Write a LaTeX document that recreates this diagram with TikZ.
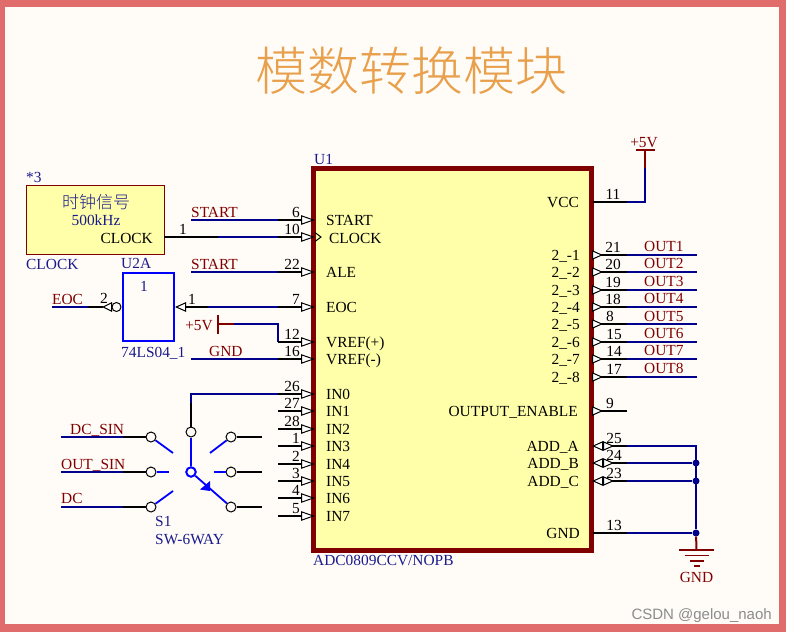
\documentclass[tikz,border=0pt]{standalone}
\usepackage{fontspec}
\setmainfont{Liberation Serif}
\newfontfamily\cjklight{Noto Sans CJK SC Light}
\usetikzlibrary{arrows.meta}
\definecolor{wirecol}{HTML}{00008C}
\definecolor{netcol}{HTML}{800000}
\definecolor{refcol}{HTML}{1A1A8C}
\definecolor{paper}{HTML}{FFFCF8}
\definecolor{frame}{HTML}{E06C6C}
\definecolor{partfill}{HTML}{FFFFAA}
\definecolor{titlecol}{HTML}{E8A04C}
\definecolor{swblue}{HTML}{0000FF}
\tikzset{
    sch/.style={font=\fontsize{15.4}{16}\selectfont, inner sep=0pt},
    netname/.style={sch, text=netcol, anchor=base west},
    refname/.style={sch, text=refcol, anchor=base west},
    pinnum/.style={sch, text=black, anchor=base},
    pintext/.style={sch, text=black, anchor=base west},
    pinrtext/.style={sch, text=black, anchor=base east},
    wire/.style={draw=wirecol, line width=2pt},
    redwire/.style={draw=netcol, line width=2pt},
    pinline/.style={draw=black, line width=2pt},
    pinin/.style={pinline, -{Triangle[fill=white, length=14pt, width=9.5pt, line width=1pt]}},
    pinout/.style={pinline, {Triangle[reversed, fill=white, length=11pt, width=9.5pt, line width=1pt]}-},
    pinback/.style={pinline, {Triangle[fill=white, length=11pt, width=9.5pt, line width=1pt]}-},
    pinboth/.style={pinline, {Triangle[fill=white, length=11pt, width=9.5pt, line width=1pt]Triangle[reversed, fill=white, length=11pt, width=9.5pt, line width=1pt]}-},
    swarm/.style={draw=swblue, line width=1.8pt},
    contact/.style={circle, draw=black, fill=paper, line width=1pt, minimum size=10pt, inner sep=0pt},
    dot/.style={circle, fill=wirecol, minimum size=7pt, inner sep=0pt},
}
\begin{document}
\begin{tikzpicture}[x=1pt, y=-1pt]
    \useasboundingbox (0,0) rectangle (786,632);
    \fill[frame] (0,0) rectangle (786,632);
    \fill[paper] (5,7) rectangle (779,624);

    \node[text=titlecol, font=\cjklight\fontsize{52}{54}\selectfont, inner sep=0pt] (title) at (411,71) {模数转换模块};

    % parts
    \node[rectangle, draw=netcol, line width=5pt, fill=partfill, minimum width=278pt, minimum height=382pt] (u1) at (452.5,359) {};
    \node[rectangle, draw=netcol, line width=1pt, fill=partfill, minimum width=138pt, minimum height=69pt] (clk) at (95,219.5) {};
    \node[rectangle, draw=swblue, line width=2pt, minimum width=51pt, minimum height=68pt] (u2) at (148,306.5) {};

    \node[refname] (u1ref) at (314,164) {U1};
    \node[refname] (u1val) at (313,565) {ADC0809CCV/NOPB};
    \node[refname] (clkref) at (26,182) {*3};
    \node[refname] (clkval) at (26,269) {CLOCK};
    \node[text=refcol, font=\cjklight\fontsize{17}{18}\selectfont, inner sep=0pt] (clkcn) at (96,202) {时钟信号};
    \node[sch, text=refcol, anchor=base] (clkhz) at (96,225) {500kHz};
    \node[pinrtext] (clkpin) at (153,243) {CLOCK};
    \node[refname] (u2ref) at (121,268) {U2A};
    \node[sch, text=refcol, anchor=base] (u2one) at (144,291) {1};
    \node[refname] (u2val) at (121,357) {74LS04\_1};

    % left side of U1
    \coordinate (p6) at (315,220);   \coordinate (j6) at (278,220);   \coordinate (w6) at (191,220);
    \coordinate (p10) at (315,237); \coordinate (j10) at (278,237); \coordinate (k10) at (218,237); \coordinate (c10) at (164,237);
    \coordinate (p22) at (315,272);  \coordinate (j22) at (278,272);  \coordinate (w22) at (191,272);
    \coordinate (p7) at (315,307);   \coordinate (j7) at (278,307);   \coordinate (k7) at (208,307);  \coordinate (c7) at (175,307);
    \coordinate (p12) at (315,342);  \coordinate (j12) at (278,342);  \coordinate (b12) at (278,324); \coordinate (k12) at (234,324);
    \coordinate (p16) at (315,359);  \coordinate (j16) at (278,359);  \coordinate (w16) at (191,359);
    \coordinate (p26) at (315,394);  \coordinate (j26) at (278,394);  \coordinate (b26) at (191,394); \coordinate (k26) at (191,403);

    \draw[wire] (w6) -- (j6);
    \draw[pinin] (j6) -- (p6);
    \draw[pinline] (c10) -- (k10);
    \draw[wire] (k10) -- (j10);
    \draw[pinin] (j10) -- (p10);
    \draw[wire] (w22) -- (j22);
    \draw[pinin] (j22) -- (p22);
    \draw[pinback] (c7) -- (k7);
    \draw[wire] (k7) -- (j7);
    \draw[pinin] (j7) -- (p7);
    \draw[wire] (k12) -- (b12) -- (j12);
    \draw[pinin] (j12) -- (p12);
    \draw[wire] (w16) -- (j16);
    \draw[pinin] (j16) -- (p16);

    \coordinate (p27) at (315,411);  \coordinate (j27) at (278,411);
    \coordinate (p28) at (315,429);  \coordinate (j28) at (278,429);
    \coordinate (p1) at (315,446);   \coordinate (j1) at (278,446);
    \coordinate (p2) at (315,464);   \coordinate (j2) at (278,464);
    \coordinate (p3) at (315,481);   \coordinate (j3) at (278,481);
    \coordinate (p4) at (315,498);   \coordinate (j4) at (278,498);
    \coordinate (p5) at (315,516);   \coordinate (j5) at (278,516);
    \draw[pinin] (j26) -- (p26);
    \draw[pinin] (j27) -- (p27);
    \draw[pinin] (j28) -- (p28);
    \draw[pinin] (j1) -- (p1);
    \draw[pinin] (j2) -- (p2);
    \draw[pinin] (j3) -- (p3);
    \draw[pinin] (j4) -- (p4);
    \draw[pinin] (j5) -- (p5);

    % clock mark on U1
    \coordinate (m1) at (315,232.5);
    \coordinate (m2) at (321,237);
    \coordinate (m3) at (315,241.5);
    \draw[line width=1pt] (m1) -- (m2) -- (m3);

    % U2A output bubble
    \node[circle, draw=black, fill=paper, line width=1pt, minimum size=9pt, inner sep=0pt] (bub) at (116.5,307) {};
    \coordinate (w2) at (52,307);
    \coordinate (k2) at (88,307);
    \coordinate (e2) at (112,307);
    \draw[wire] (w2) -- (k2);
    \draw[pinline, -{Triangle[reversed, fill=white, length=10pt, width=9.5pt, line width=1pt]}] (k2) -- (e2);

    % +5V on VREF
    \node[rectangle, fill=netcol, minimum width=2pt, minimum height=19pt, inner sep=0pt] (vref) at (218,324) {};
    \draw[redwire] (vref) -- (k12);
    \node[sch, text=netcol, anchor=base east] (vrefname) at (213,330) {+5V};

    % net names left
    \node[netname] (nstart1) at (191,217) {START};
    \node[netname] (nstart2) at (191,269) {START};
    \node[netname] (neoc) at (52,304) {EOC};
    \node[netname] (ngnd16) at (209,356) {GND};
    \node[netname] (ndcsin) at (70,434) {DC\_SIN};
    \node[netname] (noutsin) at (61,469) {OUT\_SIN};
    \node[netname] (ndc) at (61,503) {DC};

    % pin numbers left
    \node[pinnum] (n1c) at (183,234) {1};
    \node[pinnum] (n6) at (296,217) {6};
    \node[pinnum] (n10) at (292,234) {10};
    \node[pinnum] (n22) at (292,269) {22};
    \node[pinnum] (n2u) at (104,303) {2};
    \node[pinnum] (n1u) at (192,304) {1};
    \node[pinnum] (n7) at (296,304) {7};
    \node[pinnum] (n12) at (292,339) {12};
    \node[pinnum] (n16) at (292,356) {16};
    \node[pinnum] (n26) at (292,391) {26};
    \node[pinnum] (n27) at (292,408) {27};
    \node[pinnum] (n28) at (292,426) {28};
    \node[pinnum] (n1) at (296,443) {1};
    \node[pinnum] (n2) at (296,461) {2};
    \node[pinnum] (n3) at (296,478) {3};
    \node[pinnum] (n4) at (296,495) {4};
    \node[pinnum] (n5) at (296,513) {5};

    % pin texts left
    \node[pintext] (tstart) at (326,225) {START};
    \node[pintext] (tclock) at (329,243) {CLOCK};
    \node[pintext] (tale) at (326,277) {ALE};
    \node[pintext] (teoc) at (326,312) {EOC};
    \node[pintext] (tvp) at (326,347) {VREF(+)};
    \node[pintext] (tvm) at (326,364) {VREF(-)};
    \node[pintext] (tin0) at (326,399) {IN0};
    \node[pintext] (tin1) at (326,416) {IN1};
    \node[pintext] (tin2) at (326,434) {IN2};
    \node[pintext] (tin3) at (326,451) {IN3};
    \node[pintext] (tin4) at (326,469) {IN4};
    \node[pintext] (tin5) at (326,486) {IN5};
    \node[pintext] (tin6) at (326,503) {IN6};
    \node[pintext] (tin7) at (326,521) {IN7};

    % switch
    \node[contact] (top) at (191,432) {};
    \node[circle, draw=swblue, fill=paper, line width=2pt, minimum size=9.5pt, inner sep=0pt] (hub) at (191,472) {};
    \node[contact] (l1) at (151,437) {};
    \node[contact] (l2) at (151,472) {};
    \node[contact] (l3) at (151,507) {};
    \node[contact] (r1) at (231,437) {};
    \node[contact] (r2) at (231,472) {};
    \node[contact] (r3) at (231,507) {};

    \draw[pinline] (top) -- (k26);
    \draw[wire] (k26) -- (b26) -- (j26);
    \draw[swarm] (top) -- (hub);
    \draw[swarm] (hub) -- (r3);
    \fill[swblue] (210,481) -- (210,491) -- (200,489.5) -- cycle;

    \coordinate (al1) at (173,453);
    \coordinate (al2) at (169,472);
    \coordinate (al3) at (173,491);
    \coordinate (ar1) at (210,453);
    \coordinate (ar2) at (214,472);
    \draw[swarm] (l1) -- (al1);
    \draw[swarm] (l2) -- (al2);
    \draw[swarm] (l3) -- (al3);
    \draw[swarm] (r1) -- (ar1);
    \draw[swarm] (r2) -- (ar2);

    \coordinate (w_l1) at (61,437); \coordinate (k_l1) at (123,437);
    \coordinate (w_l2) at (61,472); \coordinate (k_l2) at (123,472);
    \coordinate (w_l3) at (61,507); \coordinate (k_l3) at (123,507);
    \draw[wire] (w_l1) -- (k_l1);
    \draw[pinline] (k_l1) -- (l1);
    \draw[wire] (w_l2) -- (k_l2);
    \draw[pinline] (k_l2) -- (l2);
    \draw[wire] (w_l3) -- (k_l3);
    \draw[pinline] (k_l3) -- (l3);

    \coordinate (e_r1) at (262,437);
    \coordinate (e_r2) at (262,472);
    \coordinate (e_r3) at (262,507);
    \draw[pinline] (r1) -- (e_r1);
    \draw[pinline] (r2) -- (e_r2);
    \draw[pinline] (r3) -- (e_r3);

    \node[refname] (s1ref) at (155,526) {S1};
    \node[refname] (s1val) at (155,544) {SW-6WAY};

    % right side of U1
    \coordinate (p11) at (593,202);  \coordinate (j11) at (627,202);  \coordinate (b11) at (645,202); \coordinate (k11) at (645,168);
    \coordinate (q21) at (592,255);  \coordinate (j21) at (627,255);  \coordinate (e21) at (697,255);
    \coordinate (q20) at (592,272);  \coordinate (j20) at (627,272);  \coordinate (e20) at (697,272);
    \coordinate (q19) at (592,290);  \coordinate (j19) at (627,290);  \coordinate (e19) at (697,290);
    \coordinate (q18) at (592,307);  \coordinate (j18) at (627,307);  \coordinate (e18) at (697,307);
    \coordinate (q8) at (592,324);   \coordinate (j8) at (627,324);   \coordinate (e8) at (697,324);
    \coordinate (q15) at (592,342);  \coordinate (j15) at (627,342);  \coordinate (e15) at (697,342);
    \coordinate (q14) at (592,359);  \coordinate (j14) at (627,359);  \coordinate (e14) at (697,359);
    \coordinate (q17) at (592,377);  \coordinate (j17) at (627,377);  \coordinate (e17) at (697,377);
    \coordinate (q9) at (592,411);   \coordinate (j9) at (627,411);
    \coordinate (q25) at (592,446);  \coordinate (j25) at (627,446);  \coordinate (c25) at (696,446);
    \coordinate (q24) at (592,463);  \coordinate (j24) at (627,463);
    \coordinate (q23) at (592,481);  \coordinate (j23) at (627,481);
    \coordinate (q13) at (593,533);  \coordinate (j13) at (627,533);

    \node[dot] (d24) at (696,463) {};
    \node[dot] (d23) at (696,481) {};
    \node[dot] (d13) at (696,533) {};

    \draw[pinline] (p11) -- (j11);
    \draw[wire] (j11) -- (b11) -- (k11);
    \draw[pinout] (q21) -- (j21);
    \draw[wire] (j21) -- (e21);
    \draw[pinout] (q20) -- (j20);
    \draw[wire] (j20) -- (e20);
    \draw[pinout] (q19) -- (j19);
    \draw[wire] (j19) -- (e19);
    \draw[pinout] (q18) -- (j18);
    \draw[wire] (j18) -- (e18);
    \draw[pinout] (q8) -- (j8);
    \draw[wire] (j8) -- (e8);
    \draw[pinout] (q15) -- (j15);
    \draw[wire] (j15) -- (e15);
    \draw[pinout] (q14) -- (j14);
    \draw[wire] (j14) -- (e14);
    \draw[pinout] (q17) -- (j17);
    \draw[wire] (j17) -- (e17);
    \draw[pinout] (q9) -- (j9);
    \draw[pinboth] (q25) -- (j25);
    \draw[wire] (j25) -- (c25) -- (d13);
    \draw[pinboth] (q24) -- (j24);
    \draw[wire] (j24) -- (d24);
    \draw[pinboth] (q23) -- (j23);
    \draw[wire] (j23) -- (d23);
    \draw[pinline] (q13) -- (j13);
    \draw[wire] (j13) -- (d13);

    % +5V on VCC
    \node[rectangle, fill=netcol, minimum width=19pt, minimum height=2pt, inner sep=0pt] (vcc) at (645,150) {};
    \draw[redwire] (k11) -- (vcc);
    \node[sch, text=netcol, anchor=base] (vccname) at (644,147) {+5V};

    % ground
    \node[rectangle, fill=netcol, minimum width=35pt, minimum height=1.6pt, inner sep=0pt] (g1) at (696.5,550) {};
    \node[rectangle, fill=netcol, minimum width=24pt, minimum height=1.6pt, inner sep=0pt] (g2) at (696.5,555.5) {};
    \node[rectangle, fill=netcol, minimum width=14pt, minimum height=1.6pt, inner sep=0pt] (g3) at (696.5,561) {};
    \node[rectangle, fill=netcol, minimum width=6pt, minimum height=1.6pt, inner sep=0pt] (g4) at (696.5,566) {};
    \draw[redwire] (d13) -- (g1);
    \node[sch, text=netcol, anchor=base] (gndname) at (696.5,582) {GND};

    % pin numbers right
    \node[pinnum] (n11) at (613,199) {11};
    \node[pinnum] (n21) at (613,252) {21};
    \node[pinnum] (n20) at (613,269) {20};
    \node[pinnum] (n19) at (613,287) {19};
    \node[pinnum] (n18) at (613,304) {18};
    \node[pinnum] (n8) at (610,321) {8};
    \node[pinnum] (n15) at (614,339) {15};
    \node[pinnum] (n14) at (614,356) {14};
    \node[pinnum] (n17) at (614,374) {17};
    \node[pinnum] (n9) at (610,408) {9};
    \node[pinnum] (n25) at (614,443) {25};
    \node[pinnum] (n24) at (614,460) {24};
    \node[pinnum] (n23) at (614,478) {23};
    \node[pinnum] (n13) at (614,530) {13};

    % pin texts right
    \node[pinrtext] (tvcc) at (579,207) {VCC};
    \node[pinrtext] (t1) at (580,260) {2\_-1};
    \node[pinrtext] (t2) at (580,277) {2\_-2};
    \node[pinrtext] (t3) at (580,295) {2\_-3};
    \node[pinrtext] (t4) at (580,312) {2\_-4};
    \node[pinrtext] (t5) at (580,329) {2\_-5};
    \node[pinrtext] (t6) at (580,347) {2\_-6};
    \node[pinrtext] (t7) at (580,364) {2\_-7};
    \node[pinrtext] (t8) at (580,382) {2\_-8};
    \node[pinrtext] (toe) at (578,416) {OUTPUT\_ENABLE};
    \node[pinrtext] (ta) at (579,451) {ADD\_A};
    \node[pinrtext] (tb) at (579,468) {ADD\_B};
    \node[pinrtext] (tc) at (579,486) {ADD\_C};
    \node[pinrtext] (tgnd) at (580,538) {GND};

    % net names right
    \node[netname] (nout1) at (644,251) {OUT1};
    \node[netname] (nout2) at (644,268.5) {OUT2};
    \node[netname] (nout3) at (644,286) {OUT3};
    \node[netname] (nout4) at (644,303) {OUT4};
    \node[netname] (nout5) at (644,321) {OUT5};
    \node[netname] (nout6) at (644,338) {OUT6};
    \node[netname] (nout7) at (644,355.5) {OUT7};
    \node[netname] (nout8) at (644,373) {OUT8};

    \node[font=\fontspec{Liberation Sans}\fontsize{15}{16}\selectfont, text=black!45, anchor=base east, inner sep=0pt] (mark) at (772,619) {CSDN @gelou\_naoh};
\end{tikzpicture}
\end{document}
